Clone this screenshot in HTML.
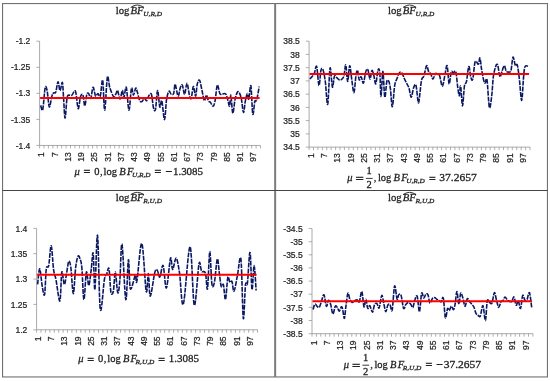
<!DOCTYPE html>
<html><head><meta charset="utf-8"><title>log BF charts</title>
<style>
html,body{margin:0;padding:0;background:#fff}
svg{display:block}
text{fill:#222222}
.yl text,.xl text{font-family:"Liberation Sans",sans-serif;font-size:8.5px;stroke:#222222;stroke-width:0.22px}
.tt{font-family:"Liberation Serif",serif;font-size:10.7px;stroke:#222222;stroke-width:0.28px}
.cp{font-family:"Liberation Serif",serif;font-size:10.5px;stroke:#222222;stroke-width:0.28px}
.sb{font-family:"Liberation Serif",serif;font-size:7.1px;stroke:#222222;stroke-width:0.25px}
.op{stroke-width:0.45px}
.it{font-style:italic}
</style></head><body>
<svg width="550" height="381" viewBox="0 0 550 381">
<rect x="0" y="0" width="550" height="381" fill="#fff"/>
<rect x="2.55" y="3.55" width="544.9" height="373.4" fill="none" stroke="#707070" stroke-width="1.1"/>
<path d="M275.15 3.5V377" stroke="#7c7c7c" stroke-width="2" fill="none"/>
<path d="M2.5 190.45H547.5" stroke="#444" stroke-width="1.1" fill="none"/>
<path d="M39.6 41.2V145.45H260.5" fill="none" stroke="#8e8e8e" stroke-width="0.75"/>
<path d="M36.3 41.2H39.6M36.3 67.3H39.6M36.3 93.3H39.6M36.3 119.4H39.6M36.3 145.4H39.6M39.6 145.45v3M44.0 145.45v3M48.4 145.45v3M52.9 145.45v3M57.3 145.45v3M61.7 145.45v3M66.1 145.45v3M70.5 145.45v3M74.9 145.45v3M79.4 145.45v3M83.8 145.45v3M88.2 145.45v3M92.6 145.45v3M97.0 145.45v3M101.5 145.45v3M105.9 145.45v3M110.3 145.45v3M114.7 145.45v3M119.1 145.45v3M123.5 145.45v3M128.0 145.45v3M132.4 145.45v3M136.8 145.45v3M141.2 145.45v3M145.6 145.45v3M150.1 145.45v3M154.5 145.45v3M158.9 145.45v3M163.3 145.45v3M167.7 145.45v3M172.1 145.45v3M176.6 145.45v3M181.0 145.45v3M185.4 145.45v3M189.8 145.45v3M194.2 145.45v3M198.6 145.45v3M203.1 145.45v3M207.5 145.45v3M211.9 145.45v3M216.3 145.45v3M220.7 145.45v3M225.2 145.45v3M229.6 145.45v3M234.0 145.45v3M238.4 145.45v3M242.8 145.45v3M247.2 145.45v3M251.7 145.45v3M256.1 145.45v3M260.5 145.45v3" fill="none" stroke="#8e8e8e" stroke-width="0.7"/>
<g class="yl" text-anchor="end">
<text x="30.3" y="44.3">-1.2</text>
<text x="30.3" y="70.4">-1.25</text>
<text x="30.3" y="96.4">-1.3</text>
<text x="30.3" y="122.5">-1.35</text>
<text x="30.3" y="148.5">-1.4</text>
</g>
<g class="xl" text-anchor="end">
<text transform="translate(44.2 152.3) rotate(-90)">1</text>
<text transform="translate(57.5 152.3) rotate(-90)">7</text>
<text transform="translate(70.7 152.3) rotate(-90)">13</text>
<text transform="translate(84.0 152.3) rotate(-90)">19</text>
<text transform="translate(97.2 152.3) rotate(-90)">25</text>
<text transform="translate(110.5 152.3) rotate(-90)">31</text>
<text transform="translate(123.7 152.3) rotate(-90)">37</text>
<text transform="translate(137.0 152.3) rotate(-90)">43</text>
<text transform="translate(150.2 152.3) rotate(-90)">49</text>
<text transform="translate(163.5 152.3) rotate(-90)">55</text>
<text transform="translate(176.7 152.3) rotate(-90)">61</text>
<text transform="translate(190.0 152.3) rotate(-90)">67</text>
<text transform="translate(203.3 152.3) rotate(-90)">73</text>
<text transform="translate(216.5 152.3) rotate(-90)">79</text>
<text transform="translate(229.8 152.3) rotate(-90)">85</text>
<text transform="translate(243.0 152.3) rotate(-90)">91</text>
<text transform="translate(256.3 152.3) rotate(-90)">97</text>
</g>
<path d="M40.7 105.4C41.0 106.1 42.0 112.6 42.7 109.7C43.5 106.8 44.4 91.3 45.1 88.1C45.8 84.9 46.4 87.3 47.1 90.5C47.8 93.6 48.6 106.1 49.3 107.0C50.1 107.9 51.1 98.3 51.9 96.0C52.6 93.6 53.1 93.5 53.7 92.8C54.4 92.2 55.1 93.9 55.8 92.0C56.5 90.2 57.3 82.1 58.0 81.8C58.7 81.5 59.3 90.3 60.0 90.5C60.8 90.6 61.8 81.0 62.4 82.6C63.0 84.2 63.2 94.0 63.7 99.9C64.1 105.8 64.5 118.4 65.1 118.0C65.7 117.6 66.4 101.4 67.1 97.6C67.9 93.8 68.7 95.6 69.5 95.2C70.3 94.8 70.9 95.9 71.9 95.2C72.9 94.5 74.4 89.0 75.5 91.3C76.5 93.5 77.3 107.7 78.2 108.6C79.0 109.5 79.7 99.1 80.5 96.8C81.3 94.5 82.2 93.4 82.9 94.9C83.6 96.4 84.1 106.0 84.8 105.9C85.4 105.8 86.2 96.5 86.8 94.4C87.5 92.4 88.1 93.0 88.7 93.6C89.4 94.3 90.0 99.4 90.8 98.3C91.5 97.3 92.3 87.7 93.1 87.3C93.9 86.9 94.7 94.9 95.5 96.0C96.3 97.0 97.1 93.6 97.9 93.6C98.7 93.6 99.5 98.2 100.3 96.0C101.1 93.8 101.9 77.9 102.7 80.2C103.4 82.6 103.9 110.7 104.7 110.2C105.5 109.6 106.5 80.9 107.4 77.1C108.2 73.3 108.7 84.0 109.7 87.3C110.8 90.6 112.6 95.7 113.7 96.8C114.7 97.8 115.4 94.7 116.0 93.6C116.7 92.6 117.0 89.6 117.6 90.5C118.3 91.4 119.2 99.1 120.0 99.1C120.8 99.1 121.7 90.7 122.3 90.5C123.0 90.2 123.3 98.1 123.9 97.6C124.6 97.0 125.4 85.2 126.3 87.3C127.1 89.4 128.1 110.0 129.0 110.2C129.8 110.3 130.7 90.6 131.5 88.1C132.2 85.6 132.7 95.2 133.4 95.2C134.1 95.2 135.1 88.6 135.7 88.1C136.4 87.6 136.7 89.9 137.3 92.0C138.0 94.1 138.9 99.1 139.7 100.7C140.5 102.3 141.2 101.9 142.0 101.5C142.8 101.1 143.6 98.5 144.4 98.3C145.2 98.2 146.0 101.2 146.8 100.7C147.5 100.2 148.3 96.2 149.1 95.2C149.9 94.1 150.8 92.3 151.5 94.4C152.2 96.5 152.8 105.3 153.5 107.8C154.1 110.3 154.8 112.3 155.5 109.4C156.2 106.5 156.9 90.9 157.6 90.5C158.3 90.1 159.1 105.3 159.8 107.0C160.5 108.7 161.0 98.6 161.8 100.7C162.6 102.8 163.7 119.7 164.5 119.6C165.3 119.5 165.8 104.6 166.5 99.9C167.3 95.2 168.1 92.2 168.9 91.3C169.7 90.3 170.5 94.0 171.3 94.4C172.0 94.8 173.0 95.3 173.6 93.6C174.3 91.9 174.5 83.8 175.2 84.2C175.9 84.6 177.2 95.3 178.0 96.0C178.9 96.6 179.5 89.9 180.2 88.1C180.9 86.3 181.5 83.9 182.3 85.0C183.0 86.0 183.9 94.7 184.6 94.4C185.4 94.1 186.2 83.3 187.0 83.4C187.8 83.5 188.7 92.7 189.4 95.2C190.1 97.7 190.6 99.8 191.3 98.3C191.9 96.9 192.6 86.9 193.3 86.5C194.0 86.1 195.0 96.4 195.7 96.0C196.3 95.6 196.6 86.8 197.2 84.2C197.9 81.5 198.8 79.2 199.6 80.2C200.4 81.3 201.2 87.1 202.0 90.5C202.8 93.9 203.6 99.9 204.3 100.7C205.1 101.5 205.7 95.2 206.4 95.2C207.0 95.2 207.7 99.5 208.4 100.7C209.0 101.9 209.6 101.4 210.4 102.3C211.2 103.2 212.3 106.5 213.1 106.2C213.9 106.0 214.4 104.3 215.1 100.7C215.8 97.2 216.6 86.1 217.3 85.0C218.1 83.8 219.0 92.1 219.9 93.6C220.7 95.1 221.6 93.9 222.5 93.9C223.5 94.0 224.8 92.8 225.7 93.9C226.6 95.1 227.4 98.7 228.0 100.7C228.7 102.8 229.1 107.1 229.6 106.2C230.1 105.3 230.4 94.0 230.9 95.2C231.4 96.4 232.1 112.7 232.8 113.3C233.5 114.0 234.3 102.7 235.1 99.1C235.9 95.6 236.8 93.1 237.5 92.0C238.2 91.0 238.7 91.7 239.4 92.8C240.0 94.0 240.8 95.9 241.4 99.1C242.1 102.4 242.8 112.3 243.5 112.5C244.1 112.8 244.7 103.9 245.4 100.7C246.0 97.6 246.7 93.9 247.3 93.6C247.8 93.4 248.2 100.4 248.8 99.1C249.4 97.8 250.2 83.3 250.9 85.7C251.5 88.2 252.1 111.5 252.8 114.1C253.4 116.7 254.2 103.9 254.8 101.5C255.5 99.1 256.0 102.4 256.7 99.9C257.4 97.4 258.8 88.8 259.2 86.5" fill="none" stroke="#0a1862" stroke-width="1.6" stroke-dasharray="4.8 1.05" stroke-linejoin="round"/>
<path d="M40.1 97.9H259.6" stroke="#ff0000" stroke-width="1.95" fill="none"/>
<path d="M309.1 41.2V147.1H530.0" fill="none" stroke="#8e8e8e" stroke-width="0.75"/>
<path d="M305.8 41.2H309.1M305.8 54.4H309.1M305.8 67.7H309.1M305.8 80.9H309.1M305.8 94.2H309.1M305.8 107.4H309.1M305.8 120.6H309.1M305.8 133.9H309.1M305.8 147.1H309.1M309.1 147.1v3M313.5 147.1v3M317.9 147.1v3M322.4 147.1v3M326.8 147.1v3M331.2 147.1v3M335.6 147.1v3M340.0 147.1v3M344.4 147.1v3M348.9 147.1v3M353.3 147.1v3M357.7 147.1v3M362.1 147.1v3M366.5 147.1v3M371.0 147.1v3M375.4 147.1v3M379.8 147.1v3M384.2 147.1v3M388.6 147.1v3M393.0 147.1v3M397.5 147.1v3M401.9 147.1v3M406.3 147.1v3M410.7 147.1v3M415.1 147.1v3M419.6 147.1v3M424.0 147.1v3M428.4 147.1v3M432.8 147.1v3M437.2 147.1v3M441.6 147.1v3M446.1 147.1v3M450.5 147.1v3M454.9 147.1v3M459.3 147.1v3M463.7 147.1v3M468.1 147.1v3M472.6 147.1v3M477.0 147.1v3M481.4 147.1v3M485.8 147.1v3M490.2 147.1v3M494.7 147.1v3M499.1 147.1v3M503.5 147.1v3M507.9 147.1v3M512.3 147.1v3M516.7 147.1v3M521.2 147.1v3M525.6 147.1v3M530.0 147.1v3" fill="none" stroke="#8e8e8e" stroke-width="0.7"/>
<g class="yl" text-anchor="end">
<text x="299.8" y="44.3">38.5</text>
<text x="299.8" y="57.5">38</text>
<text x="299.8" y="70.8">37.5</text>
<text x="299.8" y="84.0">37</text>
<text x="299.8" y="97.2">36.5</text>
<text x="299.8" y="110.5">36</text>
<text x="299.8" y="123.7">35.5</text>
<text x="299.8" y="137.0">35</text>
<text x="299.8" y="150.2">34.5</text>
</g>
<g class="xl" text-anchor="end">
<text transform="translate(313.7 153.3) rotate(-90)">1</text>
<text transform="translate(327.0 153.3) rotate(-90)">7</text>
<text transform="translate(340.2 153.3) rotate(-90)">13</text>
<text transform="translate(353.5 153.3) rotate(-90)">19</text>
<text transform="translate(366.7 153.3) rotate(-90)">25</text>
<text transform="translate(380.0 153.3) rotate(-90)">31</text>
<text transform="translate(393.2 153.3) rotate(-90)">37</text>
<text transform="translate(406.5 153.3) rotate(-90)">43</text>
<text transform="translate(419.7 153.3) rotate(-90)">49</text>
<text transform="translate(433.0 153.3) rotate(-90)">55</text>
<text transform="translate(446.2 153.3) rotate(-90)">61</text>
<text transform="translate(459.5 153.3) rotate(-90)">67</text>
<text transform="translate(472.8 153.3) rotate(-90)">73</text>
<text transform="translate(486.0 153.3) rotate(-90)">79</text>
<text transform="translate(499.3 153.3) rotate(-90)">85</text>
<text transform="translate(512.5 153.3) rotate(-90)">91</text>
<text transform="translate(525.8 153.3) rotate(-90)">97</text>
</g>
<path d="M309.9 79.1C310.2 78.7 311.2 77.7 311.9 76.8C312.7 75.9 313.5 75.3 314.3 73.6C315.1 71.9 315.9 64.6 316.7 66.5C317.4 68.5 318.3 84.8 319.0 85.4C319.7 86.1 320.3 73.1 320.9 70.5C321.6 67.8 322.2 67.8 323.0 69.7C323.7 71.5 324.5 75.7 325.3 81.5C326.1 87.3 326.9 106.6 327.7 104.3C328.5 102.1 329.3 71.0 330.0 68.1C330.8 65.2 331.7 85.7 332.4 87.0C333.1 88.3 333.7 77.6 334.5 76.0C335.2 74.4 335.8 76.9 336.7 77.6C337.5 78.2 338.6 79.7 339.5 79.9C340.4 80.2 341.1 79.8 341.9 79.1C342.6 78.5 343.2 78.3 343.9 76.0C344.6 73.6 345.2 64.0 345.8 65.0C346.4 65.9 347.0 81.4 347.7 81.5C348.3 81.6 349.0 66.0 349.7 65.7C350.4 65.5 351.1 75.5 351.8 79.9C352.5 84.4 353.3 93.3 354.0 92.5C354.7 91.7 355.4 78.9 356.0 75.2C356.6 71.5 357.1 69.7 357.6 70.5C358.1 71.3 358.6 78.9 359.2 79.9C359.8 81.0 360.5 76.2 361.2 76.8C361.9 77.3 362.7 84.0 363.4 83.1C364.2 82.2 365.1 73.5 365.9 71.3C366.6 69.0 367.3 68.4 367.9 69.7C368.6 71.0 369.3 79.0 370.0 79.1C370.6 79.3 371.2 71.1 371.9 70.5C372.5 69.8 373.1 73.0 373.8 75.2C374.4 77.4 375.1 84.6 375.8 83.9C376.5 83.1 377.2 72.4 377.9 70.5C378.5 68.5 379.2 67.7 379.7 72.0C380.3 76.4 380.5 96.6 381.0 96.5C381.5 96.3 382.3 71.1 382.9 71.3C383.5 71.4 384.1 95.5 384.8 97.2C385.4 99.0 386.2 84.1 386.8 81.5C387.5 78.9 388.3 80.2 388.9 81.5C389.5 82.8 389.9 85.2 390.5 89.4C391.0 93.6 391.6 107.3 392.3 106.7C393.1 106.0 393.9 90.2 394.7 85.4C395.5 80.7 396.3 80.4 397.1 78.3C397.9 76.2 398.6 73.8 399.4 72.8C400.2 71.9 401.0 71.9 401.8 72.8C402.6 73.8 403.4 76.6 404.2 78.3C404.9 80.1 405.7 81.5 406.5 83.1C407.3 84.6 408.1 85.4 408.9 87.8C409.7 90.2 410.5 97.2 411.2 97.2C412.0 97.2 412.8 89.8 413.6 87.8C414.4 85.8 415.2 82.9 416.0 85.4C416.8 87.9 417.7 101.6 418.3 102.8C419.0 103.9 419.5 96.3 420.0 92.5C420.5 88.7 420.9 82.7 421.6 79.9C422.2 77.2 423.1 78.3 423.9 76.0C424.8 73.6 425.8 66.4 426.6 65.7C427.4 65.1 428.0 70.7 428.7 72.0C429.3 73.4 430.0 72.4 430.7 73.6C431.4 74.8 432.1 79.1 432.9 79.1C433.7 79.1 434.6 74.4 435.4 73.6C436.2 72.8 436.9 74.0 437.6 74.4C438.3 74.8 438.9 74.0 439.7 76.0C440.5 78.0 441.5 86.4 442.4 86.2C443.2 86.1 444.1 78.6 444.9 75.2C445.7 71.8 446.4 64.3 447.1 65.7C447.8 67.2 448.5 82.8 449.1 83.9C449.8 84.9 450.5 73.9 451.2 72.0C451.9 70.2 452.6 72.8 453.4 72.8C454.2 72.8 455.2 69.6 455.9 72.0C456.6 74.5 457.2 83.9 457.8 87.8C458.4 91.7 458.9 95.9 459.4 95.7C459.8 95.4 460.1 84.5 460.6 86.2C461.2 87.9 461.9 105.9 462.5 105.9C463.1 105.9 463.8 90.3 464.4 86.2C465.1 82.2 465.7 84.8 466.5 81.5C467.2 78.2 468.1 67.3 468.8 66.5C469.5 65.7 470.1 74.7 470.7 76.8C471.4 78.9 472.0 81.6 472.8 79.1C473.5 76.6 474.2 64.3 475.1 61.8C476.1 59.3 477.6 64.8 478.4 64.2C479.2 63.5 479.4 57.1 479.9 57.9C480.5 58.7 480.9 65.2 481.5 68.9C482.1 72.6 483.0 77.6 483.6 79.9C484.2 82.3 484.6 83.1 485.1 83.1C485.7 83.1 486.3 75.9 487.0 79.9C487.7 84.0 488.6 104.9 489.4 107.5C490.2 110.1 491.1 100.8 491.7 95.7C492.4 90.6 492.7 81.6 493.3 76.8C494.0 71.9 495.0 68.5 495.7 66.5C496.4 64.6 497.0 63.3 497.7 65.0C498.4 66.7 499.2 75.7 499.9 76.8C500.6 77.8 501.2 73.1 502.0 71.3C502.7 69.4 503.6 65.7 504.3 65.7C505.1 65.7 505.5 70.2 506.2 71.3C507.0 72.3 508.0 72.2 508.8 72.0C509.5 71.9 510.3 73.0 511.0 70.5C511.7 68.0 512.3 57.9 513.0 57.1C513.7 56.3 514.7 64.4 515.4 65.7C516.1 67.1 516.6 62.9 517.3 65.0C517.9 67.1 518.6 72.4 519.3 78.3C520.0 84.3 521.0 100.7 521.7 100.4C522.4 100.1 523.0 82.4 523.6 76.8C524.1 71.1 524.3 68.2 525.1 66.5C526.0 64.8 528.2 66.5 528.8 66.5" fill="none" stroke="#0a1862" stroke-width="1.6" stroke-dasharray="4.8 1.05" stroke-linejoin="round"/>
<path d="M309.6 74.0H529.1" stroke="#ff0000" stroke-width="1.95" fill="none"/>
<path d="M36.6 228.4V329.75H257.5" fill="none" stroke="#8e8e8e" stroke-width="0.75"/>
<path d="M33.3 228.4H36.6M33.3 253.7H36.6M33.3 279.1H36.6M33.3 304.4H36.6M33.3 329.8H36.6M36.6 329.75v3M41.0 329.75v3M45.4 329.75v3M49.9 329.75v3M54.3 329.75v3M58.7 329.75v3M63.1 329.75v3M67.5 329.75v3M71.9 329.75v3M76.4 329.75v3M80.8 329.75v3M85.2 329.75v3M89.6 329.75v3M94.0 329.75v3M98.5 329.75v3M102.9 329.75v3M107.3 329.75v3M111.7 329.75v3M116.1 329.75v3M120.5 329.75v3M125.0 329.75v3M129.4 329.75v3M133.8 329.75v3M138.2 329.75v3M142.6 329.75v3M147.1 329.75v3M151.5 329.75v3M155.9 329.75v3M160.3 329.75v3M164.7 329.75v3M169.1 329.75v3M173.6 329.75v3M178.0 329.75v3M182.4 329.75v3M186.8 329.75v3M191.2 329.75v3M195.6 329.75v3M200.1 329.75v3M204.5 329.75v3M208.9 329.75v3M213.3 329.75v3M217.7 329.75v3M222.2 329.75v3M226.6 329.75v3M231.0 329.75v3M235.4 329.75v3M239.8 329.75v3M244.2 329.75v3M248.7 329.75v3M253.1 329.75v3M257.5 329.75v3" fill="none" stroke="#8e8e8e" stroke-width="0.7"/>
<g class="yl" text-anchor="end">
<text x="27.3" y="231.5">1.4</text>
<text x="27.3" y="256.8">1.35</text>
<text x="27.3" y="282.2">1.3</text>
<text x="27.3" y="307.5">1.25</text>
<text x="27.3" y="332.9">1.2</text>
</g>
<g class="xl" text-anchor="end">
<text transform="translate(40.8 336.4) rotate(-90)">1</text>
<text transform="translate(54.1 336.4) rotate(-90)">7</text>
<text transform="translate(67.3 336.4) rotate(-90)">13</text>
<text transform="translate(80.6 336.4) rotate(-90)">19</text>
<text transform="translate(93.8 336.4) rotate(-90)">25</text>
<text transform="translate(107.1 336.4) rotate(-90)">31</text>
<text transform="translate(120.3 336.4) rotate(-90)">37</text>
<text transform="translate(133.6 336.4) rotate(-90)">43</text>
<text transform="translate(146.8 336.4) rotate(-90)">49</text>
<text transform="translate(160.1 336.4) rotate(-90)">55</text>
<text transform="translate(173.3 336.4) rotate(-90)">61</text>
<text transform="translate(186.6 336.4) rotate(-90)">67</text>
<text transform="translate(199.9 336.4) rotate(-90)">73</text>
<text transform="translate(213.1 336.4) rotate(-90)">79</text>
<text transform="translate(226.4 336.4) rotate(-90)">85</text>
<text transform="translate(239.6 336.4) rotate(-90)">91</text>
<text transform="translate(252.9 336.4) rotate(-90)">97</text>
</g>
<path d="M37.6 284.4C38.0 281.8 38.9 268.5 39.7 268.8C40.5 269.1 41.4 281.7 42.2 286.0C43.0 290.3 43.9 297.4 44.6 294.5C45.3 291.6 45.6 273.6 46.3 268.8C47.0 264.0 47.9 269.4 48.7 265.6C49.5 261.8 50.4 245.2 51.2 245.9C52.0 246.6 52.8 263.9 53.6 269.6C54.4 275.3 55.1 275.1 56.1 280.3C57.1 285.6 59.0 302.5 59.9 301.1C60.8 299.7 61.1 274.9 61.8 272.1C62.5 269.3 63.5 284.0 64.3 284.4C65.1 284.8 65.7 278.4 66.4 274.6C67.1 270.8 68.0 262.7 68.7 261.5C69.4 260.3 70.0 261.8 70.8 267.2C71.6 272.6 72.5 293.7 73.3 293.7C74.1 293.7 74.9 273.4 75.7 267.2C76.5 261.0 77.2 258.0 77.9 256.5C78.6 255.0 79.2 256.4 79.8 258.2C80.4 260.0 81.1 260.3 81.8 267.2C82.5 274.1 83.1 298.7 83.9 299.5C84.7 300.3 85.6 274.4 86.4 272.1C87.2 269.8 88.0 286.1 88.8 285.5C89.6 284.9 90.6 274.2 91.3 268.8C92.0 263.4 92.6 249.8 93.2 253.3C93.8 256.8 94.2 292.6 94.9 289.6C95.6 286.6 96.6 232.0 97.5 235.3C98.4 238.6 99.1 301.9 100.3 309.3C101.5 316.7 103.3 285.4 104.4 279.5C105.5 273.6 106.0 275.5 106.8 273.7C107.6 271.9 108.3 265.7 109.0 268.8C109.7 271.9 110.2 288.4 110.9 292.1C111.6 295.8 112.7 294.3 113.4 291.0C114.1 287.7 114.6 271.8 115.3 272.1C116.0 272.4 117.0 291.7 117.8 292.9C118.6 294.1 119.2 287.6 119.9 279.5C120.6 271.4 121.0 241.0 122.0 244.3C123.0 247.6 124.7 296.9 125.8 299.5C126.9 302.1 127.6 261.6 128.4 259.8C129.2 258.0 129.2 286.2 130.4 288.8C131.6 291.4 134.2 276.7 135.3 275.4C136.4 274.1 135.8 286.4 136.9 281.1C138.0 275.8 140.2 241.8 141.8 243.5C143.4 245.2 145.1 286.3 146.2 291.3C147.3 296.3 147.7 272.9 148.4 273.7C149.1 274.5 149.2 296.5 150.3 296.2C151.4 295.9 153.7 276.4 154.9 272.1C156.1 267.8 156.6 269.7 157.4 270.5C158.2 271.3 158.9 277.8 159.8 277.0C160.8 276.2 162.0 263.8 163.1 265.6C164.2 267.4 165.2 289.2 166.4 288.0C167.6 286.8 169.5 261.3 170.5 258.2C171.5 255.1 171.7 269.6 172.6 269.6C173.5 269.6 175.0 257.6 176.2 258.2C177.3 258.8 178.3 265.2 179.5 272.9C180.7 280.6 181.6 308.8 183.3 304.4C185.1 300.0 188.2 246.6 190.0 246.7C191.8 246.8 192.8 302.3 194.3 305.2C195.8 308.1 197.8 269.5 199.0 263.9C200.2 258.2 200.5 269.8 201.6 271.3C202.7 272.8 204.4 270.0 205.4 272.9C206.4 275.8 206.8 292.4 207.5 288.8C208.2 285.2 209.1 252.4 209.8 251.6C210.5 250.8 211.1 278.8 211.9 283.9C212.7 289.0 213.5 286.4 214.4 282.3C215.3 278.2 216.5 260.6 217.3 259.0C218.1 257.4 218.7 268.3 219.3 272.9C220.0 277.5 220.5 284.4 221.2 286.4C221.9 288.4 222.7 282.5 223.4 284.7C224.1 286.9 224.8 300.7 225.5 299.5C226.2 298.3 227.1 280.3 227.8 277.4C228.5 274.5 229.2 281.6 229.9 282.3C230.6 283.0 231.3 280.0 232.0 281.5C232.7 283.0 233.1 292.2 234.0 291.3C234.9 290.4 236.2 281.6 237.3 276.2C238.5 270.8 239.9 252.0 240.9 259.0C241.9 266.0 242.5 314.0 243.3 318.3C244.1 322.6 244.8 290.6 245.5 284.7C246.2 278.8 246.7 288.5 247.4 283.1C248.2 277.7 249.2 251.4 250.0 252.5C250.8 253.6 251.3 287.4 252.0 289.6C252.7 291.8 253.4 265.5 254.1 265.6C254.8 265.8 255.8 286.4 256.1 290.5" fill="none" stroke="#0a1862" stroke-width="1.6" stroke-dasharray="4.8 1.05" stroke-linejoin="round"/>
<path d="M37.1 274.8H256.6" stroke="#ff0000" stroke-width="1.95" fill="none"/>
<path d="M312.0 228.5V333.7H532.9" fill="none" stroke="#8e8e8e" stroke-width="0.75"/>
<path d="M308.7 228.5H312.0M308.7 241.7H312.0M308.7 254.8H312.0M308.7 267.9H312.0M308.7 281.1H312.0M308.7 294.2H312.0M308.7 307.4H312.0M308.7 320.5H312.0M308.7 333.7H312.0M312.0 333.7v3M316.4 333.7v3M320.8 333.7v3M325.3 333.7v3M329.7 333.7v3M334.1 333.7v3M338.5 333.7v3M342.9 333.7v3M347.3 333.7v3M351.8 333.7v3M356.2 333.7v3M360.6 333.7v3M365.0 333.7v3M369.4 333.7v3M373.9 333.7v3M378.3 333.7v3M382.7 333.7v3M387.1 333.7v3M391.5 333.7v3M395.9 333.7v3M400.4 333.7v3M404.8 333.7v3M409.2 333.7v3M413.6 333.7v3M418.0 333.7v3M422.4 333.7v3M426.9 333.7v3M431.3 333.7v3M435.7 333.7v3M440.1 333.7v3M444.5 333.7v3M449.0 333.7v3M453.4 333.7v3M457.8 333.7v3M462.2 333.7v3M466.6 333.7v3M471.0 333.7v3M475.5 333.7v3M479.9 333.7v3M484.3 333.7v3M488.7 333.7v3M493.1 333.7v3M497.6 333.7v3M502.0 333.7v3M506.4 333.7v3M510.8 333.7v3M515.2 333.7v3M519.6 333.7v3M524.1 333.7v3M528.5 333.7v3M532.9 333.7v3" fill="none" stroke="#8e8e8e" stroke-width="0.7"/>
<g class="yl" text-anchor="end">
<text x="302.7" y="231.6">-34.5</text>
<text x="302.7" y="244.8">-35</text>
<text x="302.7" y="257.9">-35.5</text>
<text x="302.7" y="271.1">-36</text>
<text x="302.7" y="284.2">-36.5</text>
<text x="302.7" y="297.4">-37</text>
<text x="302.7" y="310.5">-37.5</text>
<text x="302.7" y="323.6">-38</text>
<text x="302.7" y="336.8">-38.5</text>
</g>
<g class="xl" text-anchor="end">
<text transform="translate(316.6 340.6) rotate(-90)">1</text>
<text transform="translate(329.9 340.6) rotate(-90)">7</text>
<text transform="translate(343.1 340.6) rotate(-90)">13</text>
<text transform="translate(356.4 340.6) rotate(-90)">19</text>
<text transform="translate(369.6 340.6) rotate(-90)">25</text>
<text transform="translate(382.9 340.6) rotate(-90)">31</text>
<text transform="translate(396.1 340.6) rotate(-90)">37</text>
<text transform="translate(409.4 340.6) rotate(-90)">43</text>
<text transform="translate(422.6 340.6) rotate(-90)">49</text>
<text transform="translate(435.9 340.6) rotate(-90)">55</text>
<text transform="translate(449.1 340.6) rotate(-90)">61</text>
<text transform="translate(462.4 340.6) rotate(-90)">67</text>
<text transform="translate(475.7 340.6) rotate(-90)">73</text>
<text transform="translate(488.9 340.6) rotate(-90)">79</text>
<text transform="translate(502.2 340.6) rotate(-90)">85</text>
<text transform="translate(515.4 340.6) rotate(-90)">91</text>
<text transform="translate(528.7 340.6) rotate(-90)">97</text>
</g>
<path d="M313.1 309.5C313.4 308.6 314.2 304.6 314.9 304.1C315.6 303.5 316.4 305.7 317.1 306.3C317.8 306.8 318.5 308.2 319.3 307.4C320.0 306.5 320.7 303.4 321.5 301.4C322.2 299.3 323.1 294.0 324.0 294.8C324.8 295.6 325.6 305.4 326.4 306.3C327.1 307.2 327.8 300.5 328.5 300.3C329.3 300.0 330.0 302.4 330.7 304.6C331.4 306.9 332.1 313.6 332.9 313.9C333.7 314.2 334.6 307.4 335.3 306.3C336.0 305.2 336.6 306.5 337.3 307.4C337.9 308.2 338.5 311.3 339.2 311.2C339.9 311.1 340.8 307.1 341.4 306.8C342.0 306.5 342.2 307.6 342.7 309.5C343.2 311.4 343.8 318.9 344.4 318.3C344.9 317.6 345.4 309.9 346.0 305.7C346.6 301.5 347.3 294.3 347.9 293.2C348.6 292.1 349.1 297.6 349.8 299.2C350.5 300.7 351.2 302.2 352.0 302.4C352.8 302.7 353.9 301.3 354.7 300.8C355.6 300.4 356.3 299.5 357.1 299.7C357.9 299.9 358.5 303.3 359.3 301.9C360.1 300.5 361.0 290.7 361.8 291.5C362.6 292.4 363.3 305.5 364.0 306.8C364.7 308.1 365.2 298.9 365.8 299.2C366.5 299.4 367.1 307.4 367.8 308.4C368.5 309.5 369.0 305.1 369.8 305.7C370.6 306.4 371.8 312.4 372.5 312.3C373.3 312.1 373.8 306.1 374.5 304.6C375.2 303.2 376.1 303.0 376.9 303.5C377.7 304.1 378.3 309.3 379.1 307.9C379.9 306.5 381.0 295.9 381.8 295.4C382.6 294.8 383.3 301.9 384.0 304.6C384.7 307.4 385.2 311.6 385.8 311.7C386.5 311.8 387.1 306.4 387.8 305.2C388.5 304.0 389.3 303.8 390.0 304.6C390.7 305.4 391.4 313.2 392.2 310.1C392.9 307.0 393.8 287.9 394.6 286.1C395.4 284.3 396.4 297.7 397.1 299.2C397.8 300.6 398.0 295.5 398.7 294.8C399.4 294.2 400.3 293.1 401.1 295.4C401.9 297.6 402.8 306.9 403.6 308.4C404.4 310.0 405.0 305.6 405.8 304.6C406.6 303.6 407.5 302.5 408.3 302.4C409.1 302.4 409.9 303.3 410.7 304.1C411.5 304.9 412.2 308.2 412.9 307.4C413.6 306.5 414.3 301.0 415.1 299.2C415.8 297.4 416.5 294.4 417.3 296.5C418.0 298.5 418.7 312.3 419.4 311.7C420.2 311.2 420.9 295.5 421.6 293.2C422.3 290.9 423.1 297.9 423.8 298.1C424.5 298.3 425.1 294.8 425.8 294.3C426.5 293.7 427.3 293.4 428.0 294.8C428.7 296.3 429.1 302.4 429.9 303.0C430.6 303.6 431.6 299.5 432.4 298.6C433.1 297.7 433.8 297.5 434.5 297.5C435.3 297.6 436.0 298.7 436.7 299.2C437.4 299.6 438.2 299.8 438.9 300.3C439.6 300.7 440.4 302.3 441.1 301.9C441.8 301.5 442.5 295.5 443.3 298.1C444.0 300.7 444.7 316.0 445.4 317.7C446.2 319.4 447.0 309.6 447.6 308.4C448.3 307.3 448.6 311.0 449.3 310.6C449.9 310.3 450.7 306.4 451.4 306.3C452.2 306.1 453.0 310.1 453.6 309.5C454.3 309.0 454.7 306.0 455.3 303.0C455.8 300.0 456.3 291.4 456.9 291.5C457.5 291.7 458.2 303.8 458.9 304.1C459.5 304.4 460.0 294.2 460.7 293.2C461.4 292.2 462.2 295.9 462.9 298.1C463.6 300.3 464.3 306.2 465.1 306.3C465.8 306.4 466.5 299.4 467.3 298.6C468.0 297.8 468.7 300.4 469.4 301.4C470.2 302.3 470.9 303.2 471.6 304.1C472.3 305.0 473.1 305.3 473.8 306.8C474.5 308.4 475.3 311.9 476.0 313.4C476.7 314.8 477.4 315.1 478.2 315.5C478.9 316.0 479.6 317.7 480.3 316.1C481.1 314.4 482.1 305.0 482.9 305.7C483.8 306.4 484.7 321.3 485.4 320.4C486.1 319.6 486.6 303.8 487.3 300.8C487.9 297.8 488.7 302.1 489.5 302.4C490.2 302.8 491.1 304.6 492.0 303.0C492.8 301.4 493.6 293.1 494.4 292.6C495.1 292.2 495.8 297.8 496.5 300.3C497.3 302.7 498.0 307.1 498.7 307.4C499.4 307.6 500.2 303.1 500.9 301.9C501.6 300.7 502.4 301.1 503.1 300.3C503.8 299.4 504.3 297.0 505.0 297.0C505.8 297.0 506.7 299.5 507.4 300.3C508.2 301.0 508.9 301.2 509.6 301.4C510.4 301.5 511.1 302.1 511.8 301.4C512.5 300.6 513.3 296.4 514.0 297.0C514.7 297.6 515.4 304.5 516.2 305.2C516.9 305.8 517.6 300.3 518.3 300.8C519.1 301.4 519.8 309.4 520.5 308.4C521.3 307.5 522.0 296.7 522.7 295.4C523.4 294.0 524.2 299.6 524.9 300.3C525.6 300.9 526.3 300.4 527.1 299.2C527.8 297.9 528.7 291.3 529.5 292.6C530.2 294.0 531.3 304.9 531.7 307.4" fill="none" stroke="#0a1862" stroke-width="1.6" stroke-dasharray="4.8 1.05" stroke-linejoin="round"/>
<path d="M312.5 301.3H532.0" stroke="#ff0000" stroke-width="1.95" fill="none"/>
<text class="tt" x="115.70" y="14.10">log</text><text class="tt it" x="130.40" y="14.10">BF</text><path d="M130.7 7.4q6.6 -4.8 13.2 0" fill="none" stroke="#222222" stroke-width="0.9"/><text class="sb it" transform="translate(143.30 16.10) scale(1.03 1)">U,R,D</text>
<text class="tt" x="388.00" y="14.10">log</text><text class="tt it" x="402.70" y="14.10">BF</text><path d="M403.0 7.4q6.6 -4.8 13.2 0" fill="none" stroke="#222222" stroke-width="0.9"/><text class="sb it" transform="translate(415.60 16.10) scale(1.03 1)">U,R,D</text>
<text class="tt" x="115.70" y="201.40">log</text><text class="tt it" x="130.40" y="201.40">BF</text><path d="M130.7 194.7q6.6 -4.8 13.2 0" fill="none" stroke="#222222" stroke-width="0.9"/><text class="sb it" transform="translate(143.30 203.40) scale(1.03 1)">R,U,D</text>
<text class="tt" x="388.00" y="201.40">log</text><text class="tt it" x="402.70" y="201.40">BF</text><path d="M403.0 194.7q6.6 -4.8 13.2 0" fill="none" stroke="#222222" stroke-width="0.9"/><text class="sb it" transform="translate(415.60 203.40) scale(1.03 1)">R,U,D</text>
<text class="cp it" x="74.60" y="174.80">μ</text><text class="cp op" transform="translate(83.50 175.30) scale(1.15 1)">=</text><text class="cp" x="94.20" y="174.80">0</text><text class="cp" x="100.10" y="174.80">,</text><text class="cp" x="103.60" y="174.80">log</text><text class="cp it" x="119.20" y="174.80">B</text><text class="cp it" x="126.90" y="174.80">F</text><text class="sb it" transform="translate(131.90 176.90) scale(1.03 1)">U,R,D</text><text class="cp op" transform="translate(154.60 175.30) scale(1.14 1)">=</text><text class="cp op" transform="translate(165.80 175.30) scale(1.12 1)">−</text><text class="cp" x="172.90" y="174.80" textLength="30.2" lengthAdjust="spacingAndGlyphs">1.3085</text>
<text class="cp it" x="347.20" y="181.10">μ</text><text class="cp op" transform="translate(355.60 181.80) scale(1.4 1)">=</text><text class="cp" x="369.20" y="174.30" text-anchor="middle">1</text><path d="M365.90 178.40h6.8" stroke="#222222" stroke-width="0.9"/><text class="cp" x="369.20" y="188.00" text-anchor="middle">2</text><text class="cp" x="373.80" y="181.10">,</text><text class="cp" x="377.90" y="181.10">log</text><text class="cp it" x="393.50" y="181.10">B</text><text class="cp it" x="401.20" y="181.10">F</text><text class="sb it" transform="translate(406.20 183.20) scale(1.03 1)">U,R,D</text><text class="cp op" transform="translate(428.90 181.60) scale(1.14 1)">=</text><text class="cp" x="439.30" y="181.10" textLength="37.4" lengthAdjust="spacingAndGlyphs">37.2657</text>
<text class="cp it" x="78.30" y="362.20">μ</text><text class="cp op" transform="translate(87.20 362.70) scale(1.15 1)">=</text><text class="cp" x="97.90" y="362.20">0</text><text class="cp" x="103.80" y="362.20">,</text><text class="cp" x="107.30" y="362.20">log</text><text class="cp it" x="122.90" y="362.20">B</text><text class="cp it" x="130.60" y="362.20">F</text><text class="sb it" transform="translate(135.60 364.30) scale(1.03 1)">R,U,D</text><text class="cp op" transform="translate(158.30 362.70) scale(1.14 1)">=</text><text class="cp" x="168.70" y="362.20" textLength="30.2" lengthAdjust="spacingAndGlyphs">1.3085</text>
<text class="cp it" x="343.70" y="367.90">μ</text><text class="cp op" transform="translate(352.10 368.60) scale(1.4 1)">=</text><text class="cp" x="365.70" y="361.10" text-anchor="middle">1</text><path d="M362.40 365.20h6.8" stroke="#222222" stroke-width="0.9"/><text class="cp" x="365.70" y="374.80" text-anchor="middle">2</text><text class="cp" x="370.30" y="367.90">,</text><text class="cp" x="374.40" y="367.90">log</text><text class="cp it" x="390.00" y="367.90">B</text><text class="cp it" x="397.70" y="367.90">F</text><text class="sb it" transform="translate(402.70 370.00) scale(1.03 1)">R,U,D</text><text class="cp op" transform="translate(425.40 368.40) scale(1.14 1)">=</text><text class="cp op" transform="translate(436.60 368.40) scale(1.12 1)">−</text><text class="cp" x="443.70" y="367.90" textLength="37.4" lengthAdjust="spacingAndGlyphs">37.2657</text>
</svg>
</body></html>
